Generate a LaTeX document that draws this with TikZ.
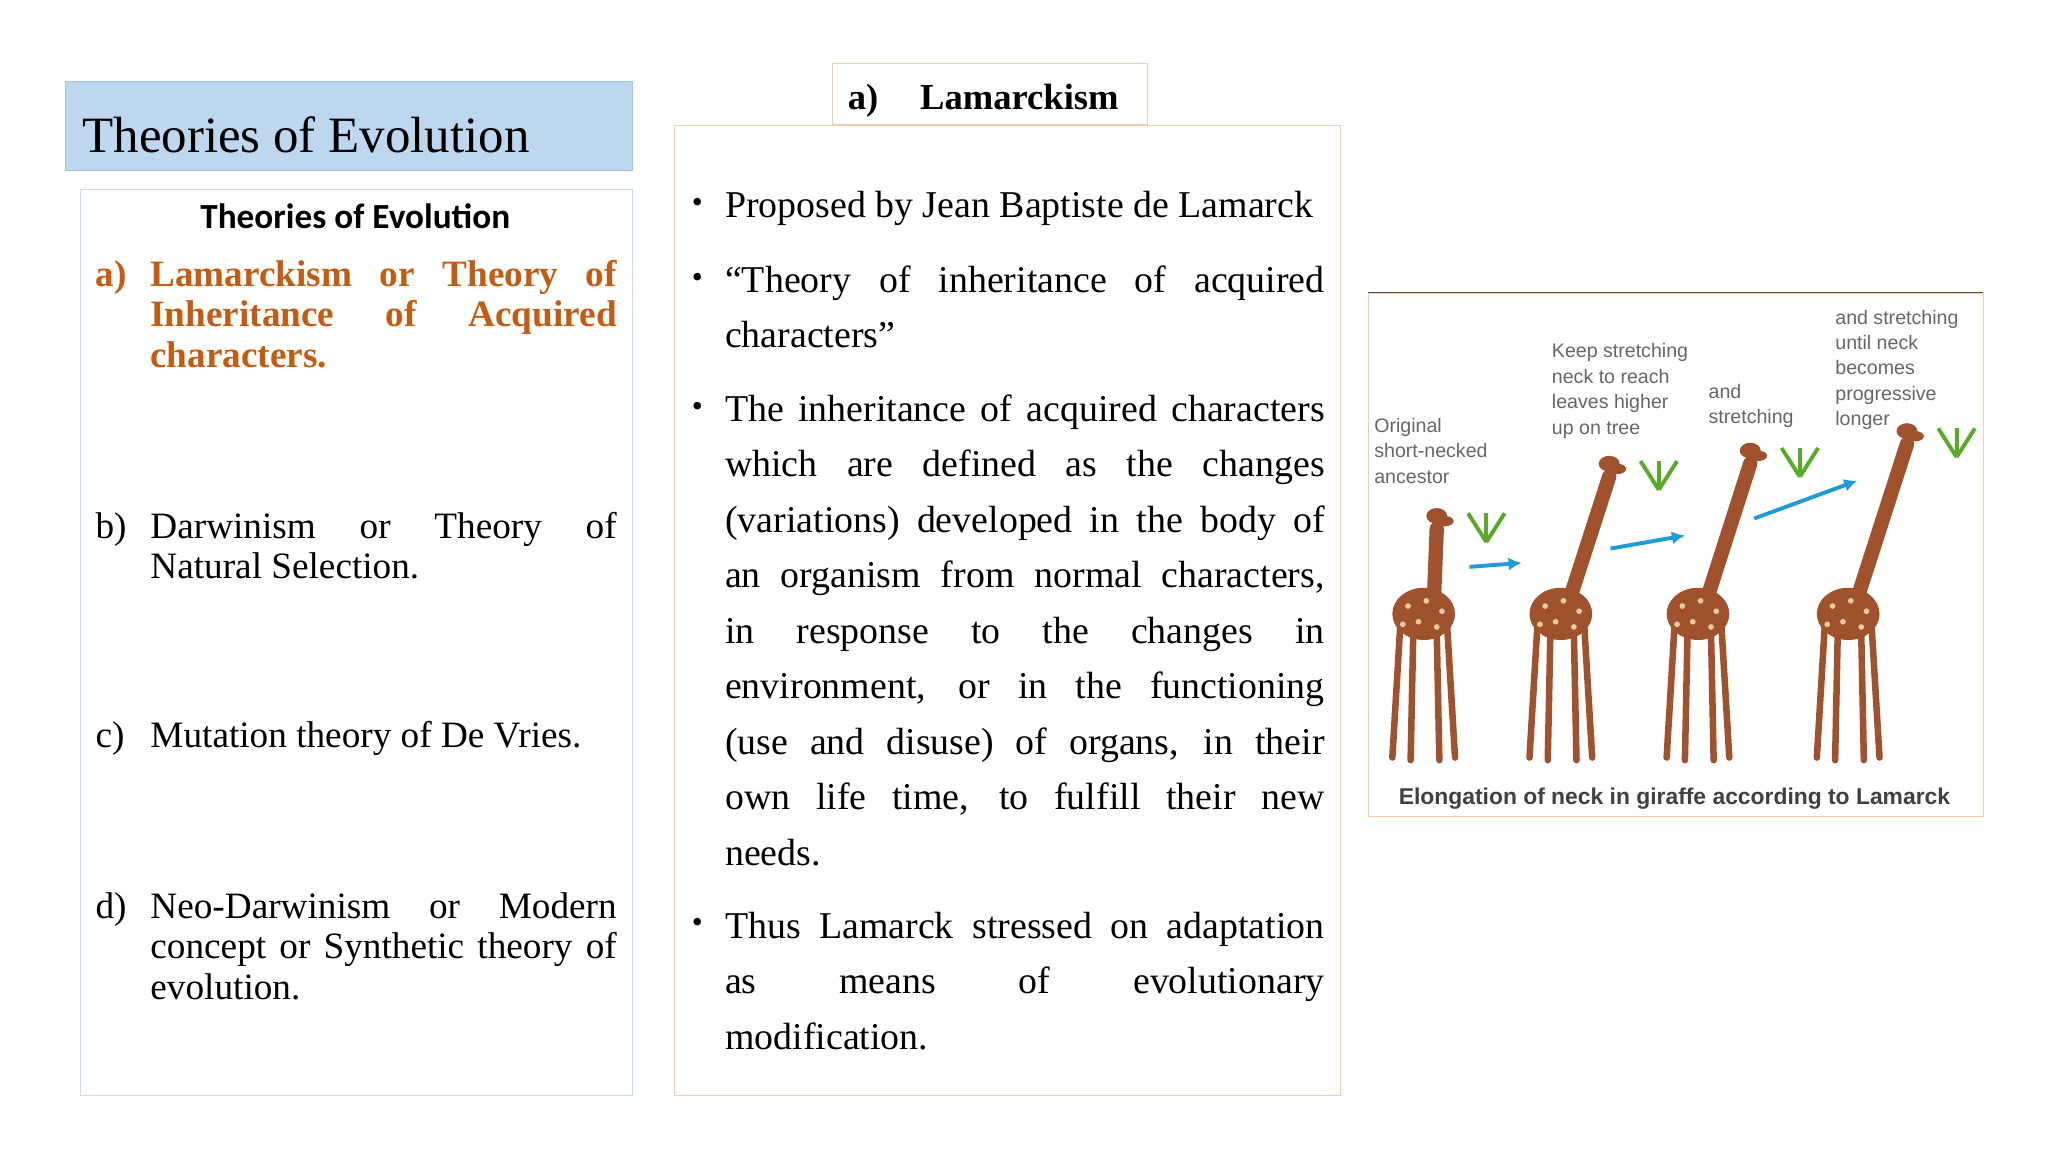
\documentclass[tikz,border=0pt]{standalone}
\usepackage{fontspec}
\usetikzlibrary{arrows.meta}
\setmainfont{Liberation Serif}
\newfontfamily\carl{Carlito}
\newfontfamily\lsans{Liberation Sans}
\definecolor{tblue}{HTML}{BDD7EE}
\definecolor{bblue}{HTML}{9DC3E6}
\definecolor{lblue}{HTML}{C9DDF0}
\definecolor{peach}{HTML}{F8CBAD}
\definecolor{orng}{HTML}{C55A11}
\definecolor{gbrown}{HTML}{A0522D}
\definecolor{spot}{HTML}{E8C9A0}
\definecolor{arrb}{HTML}{1F9BD7}
\definecolor{leaf}{HTML}{5AAA2A}
\tikzset{
 txt/.style={anchor=north west,inner sep=0pt,align=justify,font=\fontsize{28.5}{31}\selectfont},
 btxt/.style={anchor=north west,inner sep=0pt,text width=459pt,align=justify,font=\fontsize{29}{42.5}\selectfont},
 lbl/.style={anchor=north west,inner sep=0pt,align=left,text=gray!80!black,font=\lsans\fontsize{15}{19.5}\selectfont},
 giraffe/.style={gbrown},
 garrow/.style={arrb,line width=3pt,-{Latex[length=10pt,width=10pt]}}
}
\begin{document}
\hyphenpenalty=10000\relax
\exhyphenpenalty=10000\relax
\begin{tikzpicture}[x=1pt,y=-1pt]
\useasboundingbox (0,0) rectangle (1568,882);
% title
\node[draw=bblue,fill=tblue,minimum width=434pt,minimum height=68pt,anchor=north west,inner sep=0] (title) at (50,62) {};
\node[anchor=base west,inner sep=0,font=\fontsize{39}{44}\selectfont] (titlet) at (63,117) {Theories of Evolution};
% left box
\node[draw=lblue,minimum width=423pt,minimum height=693pt,anchor=north west,inner sep=0] (lbox) at (61,145) {};
\node[anchor=base,inner sep=0,font=\carl\bfseries\fontsize{27}{30}\selectfont] (lhead) at (272,175) {Theories of Evolution};
\node[txt,text=orng,font=\bfseries\fontsize{28.5}{31}\selectfont] (la) at (73,199) {a)};
\node[txt,text=orng,text width=357pt,font=\bfseries\fontsize{28.5}{31}\selectfont] (lat) at (115,199) {Lamarckism or Theory of Inheritance of Acquired characters.};
\node[txt] (lb) at (73,392) {b)};
\node[txt,text width=357pt] (lbt) at (115,392) {Darwinism or Theory of Natural Selection.};
\node[txt] (lc) at (73,552) {c)};
\node[txt,text width=357pt] (lct) at (115,552) {Mutation theory of De Vries.};
\node[txt] (ld) at (73,683) {d)};
\node[txt,text width=357pt] (ldt) at (115,683) {Neo-Darwinism or Modern concept or Synthetic theory of evolution.};
% center
\node[draw=peach,minimum width=241pt,minimum height=47pt,anchor=north west,inner sep=0] (tab) at (637,48) {};
\node[anchor=base west,inner sep=0,font=\bfseries\fontsize{28}{30}\selectfont] (tabt) at (649,84) {a)\hspace{32pt}Lamarckism};
\node[draw=peach,minimum width=510pt,minimum height=742pt,anchor=north west,inner sep=0] (cbox) at (516,96) {};
\foreach \y/\n in {157/b1,214/b2,313/b3,708/b4}{
 \node[anchor=base,inner sep=0,font=\fontsize{24}{24}\selectfont] (\n) at (534,\y+6) {•};}
\node[btxt] (p1) at (555,146) {Proposed by Jean Baptiste de Lamarck};
\node[btxt] (p2) at (555,203) {“Theory of inheritance of acquired characters”};
\node[btxt] (p3) at (555,302) {The inheritance of acquired characters which are defined as the changes (variations) developed in the body of\linebreak an organism from normal characters,\linebreak in response to the changes in\linebreak environment, or in the functioning (use and disuse) of organs, in their own life time, to fulfill their new\linebreak needs.};
\node[btxt] (p4) at (555,698) {Thus Lamarck stressed on adaptation\linebreak as means of evolutionary\linebreak modification.};
% right image
\node[draw=peach,minimum width=471pt,minimum height=401pt,anchor=north west,inner sep=0] (img) at (1047,224) {};
\draw[black!70,line width=1.2pt] (img.north west) -- (img.north east);
% giraffes
\foreach \x/\hy/\hx in {1090/395/1100,1195/355/1232,1300/345/1340,1415/330/1460}{
 \fill[giraffe] (\x,470) ellipse (24pt and 20pt);
 \draw[giraffe,line width=5pt,line cap=round] (\x-18,480) -- (\x-24,580) (\x-8,485) -- (\x-10,582) (\x+10,485) -- (\x+12,582) (\x+18,480) -- (\x+24,580);
 \draw[giraffe,line width=11pt,line cap=round] (\x+8,455) -- (\hx,\hy+10);
 \foreach \sx/\sy in {-12/-6,2/-10,14/-2,-4/6,10/10,-16/8}{\fill[spot] (\x+\sx,470+\sy) circle (2.2pt);}
 \fill[giraffe] (\hx,\hy) ellipse (8pt and 6pt);
 \fill[giraffe] (\hx+6,\hy+4) ellipse (7pt and 4pt);
 \foreach \dx in {-14,0,14}{\draw[leaf,line width=3pt] (\hx+38,\hy+20) -- ++(\dx,-22);}
}
\draw[garrow] (1125,434) -- (1165,431);
\draw[garrow] (1233,420) -- (1290,410);
\draw[garrow] (1343,397) -- (1422,368);
\node[lbl] (l1) at (1052,320) {Original\\short-necked\\ancestor};
\node[lbl] (l2) at (1188,263) {Keep stretching\\neck to reach\\leaves higher\\up on tree};
\node[lbl] (l3) at (1308,294) {and\\stretching};
\node[lbl] (l4) at (1405,237) {and stretching\\until neck\\becomes\\progressive\\longer};
\node[anchor=base,inner sep=0,text=black!75,font=\lsans\bfseries\fontsize{17.5}{20}\selectfont] (cap) at (1282,616) {Elongation of neck in giraffe according to Lamarck};
\end{tikzpicture}
\end{document}
